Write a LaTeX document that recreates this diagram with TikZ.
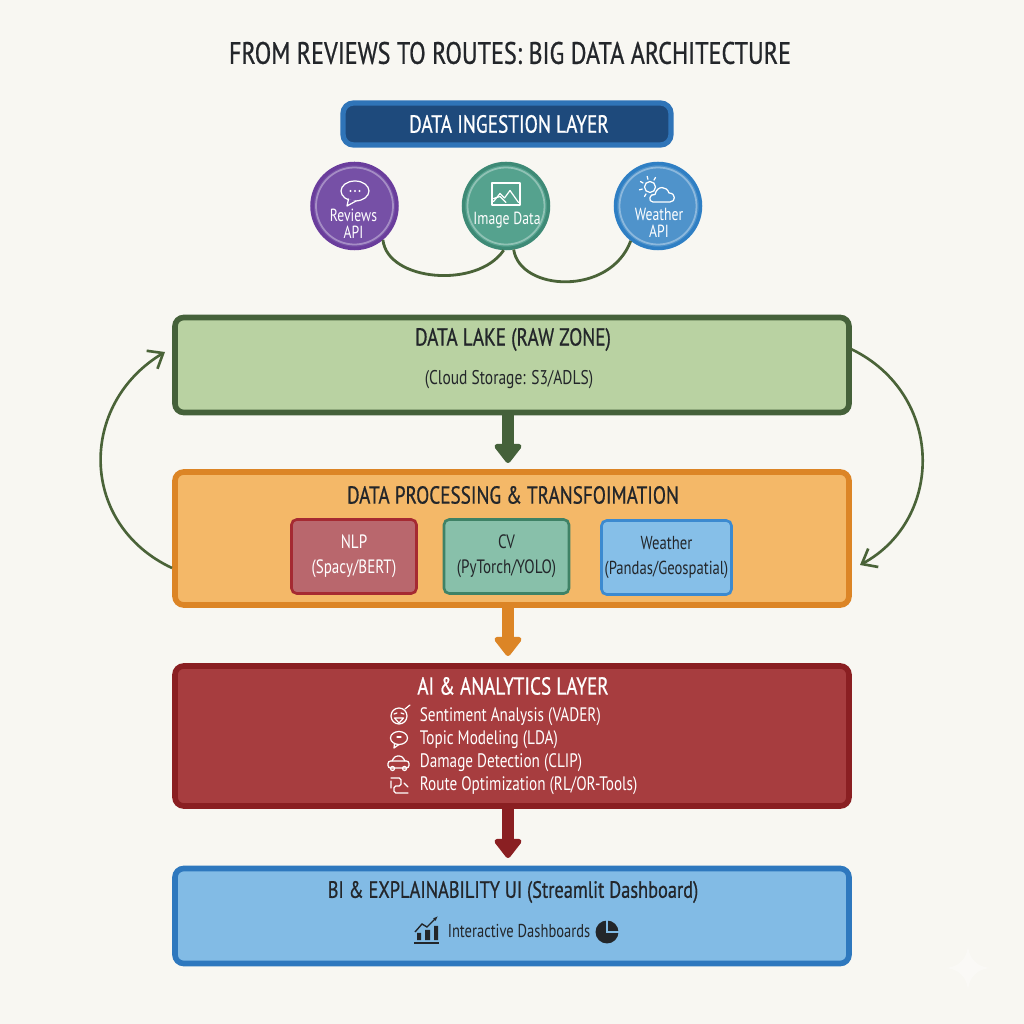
\documentclass[tikz,border=0pt]{standalone}
\usepackage{fontspec}
\setmainfont[FakeStretch=0.78]{PT Sans}
\newfontfamily\headfont[FakeStretch=0.78,FakeBold=0.7]{PT Sans}
\usetikzlibrary{arrows.meta}
\definecolor{paper}{HTML}{F8F7F2}
\definecolor{inkdark}{HTML}{23262A}
\definecolor{linkgreen}{HTML}{4A6338}
\definecolor{navyfill}{HTML}{1E4A7C}
\definecolor{navyedge}{HTML}{2F74B8}
\definecolor{purplefill}{HTML}{7650A6}
\definecolor{purpleedge}{HTML}{6A3D9C}
\definecolor{tealfill}{HTML}{55A28E}
\definecolor{tealedge}{HTML}{3E8A76}
\definecolor{skyfill}{HTML}{4F93CB}
\definecolor{skyedge}{HTML}{2F7FC4}
\definecolor{lakefill}{HTML}{B9D2A2}
\definecolor{lakeedge}{HTML}{45613A}
\definecolor{procfill}{HTML}{F4B868}
\definecolor{procedge}{HTML}{DC8526}
\definecolor{nlpfill}{HTML}{B9676D}
\definecolor{nlpedge}{HTML}{A52A32}
\definecolor{cvfill}{HTML}{88C0AA}
\definecolor{cvedge}{HTML}{3F8266}
\definecolor{wxfill}{HTML}{86BFE8}
\definecolor{wxedge}{HTML}{3C8AD0}
\definecolor{aifill}{HTML}{A73D3F}
\definecolor{aiedge}{HTML}{8A1F22}
\definecolor{bifill}{HTML}{82BBE5}
\definecolor{biedge}{HTML}{2E78BE}
\tikzset{
	layerbox/.style={draw, line width=3.2pt, rounded corners=5pt, minimum width=13.48cm, align=center},
	toolbox/.style={draw, line width=1.5pt, rounded corners=3pt, minimum height=1.48cm, align=center, font=\fontsize{11}{14}\selectfont},
	apinode/.style={circle, line width=2pt, minimum size=1.7cm, inner sep=0pt},
	apiring/.style={draw=white, opacity=0.35, line width=1pt},
	apitext/.style={white, align=center, font=\fontsize{10}{9.5}\selectfont},
	caption/.style={font=\headfont\fontsize{14}{16}\selectfont, text=inkdark},
	aiitem/.style={font=\fontsize{11.1}{13}\selectfont, text=white, anchor=west, inner sep=0pt},
	fatarrow/.style={line width=6.8pt, -{Triangle[round, length=0.42cm, width=0.62cm]}},
	looparrow/.style={draw=linkgreen, line width=1.5pt, -{Straight Barb[length=0.26cm, width=0.42cm]}},
	linkcurve/.style={draw=linkgreen, line width=1.6pt},
	iconline/.style={draw=white, line width=0.7pt, line join=round, line cap=round},
}
\begin{document}
\begin{tikzpicture}
	\useasboundingbox[fill=paper] (0,0) rectangle (20.48,20.48);

	\node[font=\headfont\fontsize{17.6}{20}\selectfont, text=inkdark] (title) at (10.2,19.42) {FROM REVIEWS TO ROUTES: BIG DATA ARCHITECTURE};

	% ingestion
	\node[draw=navyedge, fill=navyfill, line width=3pt, rounded corners=6pt, minimum width=6.56cm, minimum height=0.84cm, text=white, font=\headfont\fontsize{14.1}{16}\selectfont] (ingest) at (10.14,18) {\hspace{0.08cm}DATA INGESTION LAYER};
	\node[apinode, draw=purpleedge, fill=purplefill] (reviews) at (7.09,16.36) {};
	\node[apinode, draw=tealedge, fill=tealfill] (image) at (10.12,16.36) {};
	\node[apinode, draw=skyedge, fill=skyfill] (weather) at (13.16,16.36) {};
	\draw[apiring] (reviews) circle (0.77);
	\draw[apiring] (image) circle (0.77);
	\draw[apiring] (weather) circle (0.77);
	\node[apitext] (reviewstext) at (7.07,16) {Reviews\\API};
	\node[apitext] (imagetext) at (10.14,16.08) {Image Data};
	\node[apitext] (weathertext) at (13.18,16.02) {Weather\\API};

	% api icons
	\draw[iconline] (7.1,16.66) ellipse (0.28 and 0.2);
	\draw[iconline, fill=purplefill] (6.97,16.5) -- (6.94,16.36) -- (7.12,16.46);
	\fill[white] (7.01,16.66) circle (0.024) (7.1,16.66) circle (0.024) (7.19,16.66) circle (0.024);
	\draw[iconline] (9.84,16.38) rectangle (10.4,16.82);
	\draw[iconline] (9.87,16.45) -- (10.0,16.61) -- (10.09,16.52) -- (10.2,16.67) -- (10.37,16.43);
	\draw[iconline] (9.87,16.51) -- (10.0,16.55) -- (10.12,16.43);
	\draw[iconline] (13.0,16.74) circle (0.11);
	\foreach \ang in {60,105,150,195,240,285}
		\draw[iconline] (13.0,16.74) ++(\ang:0.16) -- ++(\ang:0.06);
	\draw[iconline, fill=skyfill] (13.06,16.44) .. controls (12.96,16.44) and (12.98,16.61) .. (13.1,16.59) .. controls (13.14,16.78) and (13.34,16.76) .. (13.38,16.62) .. controls (13.52,16.62) and (13.52,16.44) .. (13.4,16.44) -- cycle;

	% links from the api circles
	\draw[linkcurve] (reviews.-50) .. controls (7.75,14.85) and (9.55,14.7) .. (image.-93);
	\draw[linkcurve] (image.-80) .. controls (10.4,14.65) and (12.2,14.55) .. (weather.-128);

	% layers
	\node[layerbox, draw=lakeedge, fill=lakefill, minimum height=1.9cm] (lake) at (10.24,13.18) {};
	\node[caption] (laketitle) at (10.26,13.69) {DATA LAKE (RAW ZONE)};
	\node[font=\fontsize{11.3}{13}\selectfont, text=inkdark] (lakesub) at (10.18,12.88) {(Cloud Storage: S3/ADLS)};

	\node[layerbox, draw=procedge, fill=procfill, minimum height=2.66cm] (proc) at (10.24,9.71) {};
	\node[caption] (proctitle) at (10.26,10.58) {DATA PROCESSING \& TRANSFOIMATION};
	\node[toolbox, draw=nlpedge, fill=nlpfill, text=white, minimum width=2.5cm] (nlp) at (7.08,9.35) {NLP\\(Spacy/BERT)};
	\node[toolbox, draw=cvedge, fill=cvfill, text=inkdark, minimum width=2.5cm] (cv) at (10.13,9.35) {CV\\(PyTorch/YOLO)};
	\node[toolbox, draw=wxedge, fill=wxfill, text=inkdark, minimum width=2.6cm, inner sep=0pt, font=\fontsize{10.7}{14}\selectfont] (wx) at (13.33,9.33) {Weather\\(Pandas/Geospatial)};

	\node[layerbox, draw=aiedge, fill=aifill, minimum height=2.8cm] (ai) at (10.24,5.76) {};
	\node[caption, text=white] (aititle) at (10.26,6.76) {AI \& ANALYTICS LAYER};
	\node[aiitem] (sentiment) at (8.39,6.14) {Sentiment Analysis (VADER)};
	\node[aiitem] (topic) at (8.39,5.68) {Topic Modeling (LDA)};
	\node[aiitem] (damage) at (8.39,5.23) {Damage Detection (CLIP)};
	\node[aiitem] (route) at (8.39,4.77) {Route Optimization (RL/OR-Tools)};

	% ai icons
	\draw[iconline] (7.98,6.16) circle (0.16);
	\draw[iconline] (7.88,6.2) -- (7.94,6.22) (8.02,6.22) -- (8.08,6.2) (8.1,6.3) -- (8.2,6.38);
	\draw[iconline] (7.89,6.12) -- (8.07,6.12) -- (7.98,6.02) -- cycle;
	\draw[iconline] (7.98,5.72) ellipse (0.17 and 0.13);
	\draw[iconline] (7.89,5.61) -- (7.88,5.52) -- (7.98,5.59);
	\draw[iconline] (7.94,5.74) -- (8.02,5.74);
	\draw[iconline, rounded corners=1.5pt] (7.76,5.12) rectangle (8.18,5.26);
	\draw[iconline, rounded corners=1.5pt] (7.84,5.26) -- (7.9,5.36) -- (8.04,5.36) -- (8.1,5.26);
	\draw[iconline] (7.85,5.11) circle (0.04) (8.09,5.11) circle (0.04);
	\draw[iconline, rounded corners=1pt] (7.82,4.92) -- (8.02,4.92) -- (8.02,4.76) -- (7.88,4.76) -- (7.88,4.62) -- (8.16,4.62);
	\draw[iconline] (7.82,4.86) -- (7.82,4.72) (8.08,4.82) -- (8.16,4.74);

	\node[layerbox, draw=biedge, fill=bifill, minimum height=1.9cm] (bi) at (10.24,2.16) {};
	\node[font=\headfont\fontsize{13.4}{16}\selectfont, text=inkdark] (bititle) at (10.26,2.64) {BI \& EXPLAINABILITY UI (Streamlit Dashboard)};
	\node[font=\fontsize{10.6}{12}\selectfont, text=inkdark] (bitext) at (10.38,1.86) {Interactive Dashboards};

	% bi icons
	\fill[inkdark] (8.34,1.68) rectangle (8.42,1.82) (8.5,1.68) rectangle (8.6,1.88) (8.68,1.68) rectangle (8.76,1.96);
	\draw[inkdark, line width=0.8pt] (8.28,1.62) -- (8.78,1.62);
	\draw[inkdark, line width=0.8pt, -{Latex[length=0.1cm]}] (8.3,1.84) -- (8.44,2.0) -- (8.54,1.94) -- (8.76,2.16);
	\fill[inkdark] (12.14,1.84) circle (0.23);
	\draw[bifill, line width=0.8pt] (12.14,2.07) -- (12.14,1.84) -- (12.37,1.84);

	% arrows between layers
	\coordinate (lakeout) at (10.16,12.24);
	\coordinate (procin) at (10.16,11.22);
	\coordinate (procout) at (10.16,8.36);
	\coordinate (aiin) at (10.16,7.36);
	\coordinate (aiout) at (10.16,4.3);
	\coordinate (biin) at (10.16,3.32);
	\draw[fatarrow, draw=lakeedge, fill=lakeedge] (lakeout) -- (procin);
	\draw[fatarrow, draw=procedge, fill=procedge] (procout) -- (aiin);
	\draw[fatarrow, draw=aiedge, fill=aiedge] (aiout) -- (biin);

	% loop arrows
	\coordinate (backstart) at (3.44,9.12);
	\coordinate (backend) at (3.3,13.44);
	\coordinate (sidestart) at (17.02,13.5);
	\coordinate (sideend) at (17.2,9.18);
	\draw[looparrow] (backstart) .. controls (1.57,10) and (1.57,12.4) .. (backend);
	\draw[looparrow] (sidestart) .. controls (18.89,12.6) and (18.89,10.1) .. (sideend);

	% corner mark
	\fill[white, opacity=0.35] (19.36,1.6) .. controls (19.36,1.3) and (19.16,1.12) .. (18.88,1.12) .. controls (19.16,1.12) and (19.36,0.94) .. (19.36,0.64) .. controls (19.36,0.94) and (19.56,1.12) .. (19.84,1.12) .. controls (19.56,1.12) and (19.36,1.3) .. (19.36,1.6) -- cycle;
\end{tikzpicture}
\end{document}
